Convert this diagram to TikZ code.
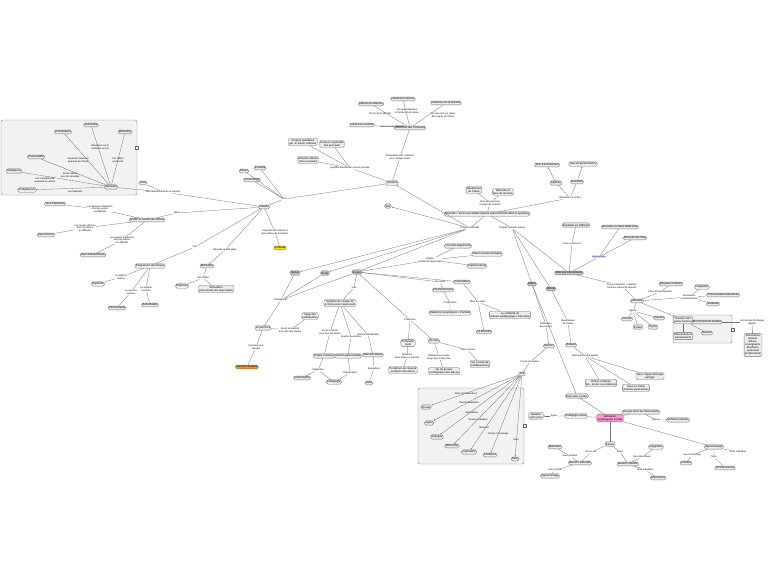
\documentclass[tikz,border=0pt]{standalone}
\usepackage{fontspec}
\setmainfont{Liberation Sans}
\usetikzlibrary{arrows.meta}
\begin{document}
\begin{tikzpicture}[x=1pt,y=-1pt,
 c/.style={draw=black!55,line width=0.35pt,fill=gray!14,rounded corners=1.5pt,inner sep=0.9pt,font=\fontsize{2.7}{3.1}\selectfont,align=center},
 d/.style={c,fill=gray!45},
 l/.style={inner sep=0.3pt,font=\fontsize{2.4}{2.8}\selectfont,align=center},
 mb/.style={draw=black!60,fill=white,line width=0.3pt,inner sep=0.5pt,minimum size=3pt,font=\fontsize{2.4}{2.4}\selectfont},
 e/.style={draw=black!55,line width=0.3pt},
 a/.style={e,-{Latex[length=1.5pt,width=1.2pt]}},
 bx/.style={draw=black!50,fill=blue!4!gray!10,rounded corners=2pt,line width=0.4pt}]
\useasboundingbox (0,0) rectangle (768,578);
\fill[white] (0,0) rectangle (768,578);
\draw[bx] (1,120) rectangle (137,195);
\draw[bx] (418,388) rectangle (524,464);
\draw[bx] (673,315) rectangle (732,343);
% left box
\node[c] (au) at (91,125) {Autonomie};
\node[c] (co) at (63,132) {Coordination};
\node[c] (mo) at (125,132) {Motivation};
\node[c] (pe) at (36,157) {Personnalité};
\node[c] (in) at (14,171) {Intelligence};
\node[c] (cm) at (27,190) {Compétences};
\node[c] (ap) at (111,187) {Aptitudes};
\foreach \s in {au,co,mo,pe,in,cm} \draw[e] (\s)--(ap);
\node[l] at (100,147) {Influences sur la\\confiance en soi};
\node[l] at (78,160) {Capacités innées et\\acquises de l'élève};
\node[l] at (118,160) {Par l'effort\\personnel};
\node[l] at (70,175) {En lien direct\\avec les résultats};
\node[l] at (45,180) {Les compétences\\acquises en classe};
\node[l] at (75,192) {Les habiletés};
\node[mb] at (137,148) {-};
\node[c] (cr) at (143,183) {Crise};
\node[l] (sd) at (163,192) {Sont déterminants de la réussite};
% individu
\node[c] (ind) at (264,207) {Individu};
\draw[e] (ap)--(sd)--(ind); \draw[e] (cr)--(sd);
\node[c] (ta) at (55,204) {Taux d'abandon};
\node[c] (ar) at (147,220) {Arrêter le soutien des élèves};
\node[c] (te) at (46,235) {Taux d'échec};
\node[c] (tb) at (93,255) {Taux d'absentéisme};
\node[l] (la) at (100,209) {Les facteurs d'abandon\\chez les jeunes\\en difficulté};
\node[l] (lb) at (85,228) {Les causes d'échec\\chez les élèves\\en difficulté};
\node[l] (lc) at (122,240) {Les causes d'absence\\chez les élèves\\en difficulté};
\draw[e] (ta)--(la)--(ar); \draw[e] (lb)--(ar); \draw[e] (te)--(lb); \draw[e] (tb)--(lc)--(ar);
\node[l] (ml) at (177,213) {Mène};
\draw[e] (ar)--(ml)--(ind);
\node[l] (cp) at (275,232) {Capacités des élèves et\\des milieux de formation};
\node[c,fill=yellow!80!orange] (ctx) at (280,248) {Contexte};
\draw[e] (ind)--(cp)--(ctx);
\node[c] (pr) at (150,266) {Progression des élèves};
\node[l] (pv) at (195,247) {Par};
\draw[e] (ind)--(pv)--(pr);
\node[l] (rq) at (225,250) {Réussite qualité élève};
\node[c] (mot) at (207,266) {Motivation};
\draw[e] (ind)--(rq)--(mot);
\node[l] (vi) at (203,278) {Vise l'effort};
\node[c] (dip) at (182,286) {Diplômés};
\node[c] (sti) at (216,289) {Stimulation\\personnelle des apprenants};
\draw[e] (mot)--(vi)--(dip); \draw[e] (vi)--(sti);
\node[c] (dp) at (98,284) {Diplômés};
\node[c] (rd) at (150,305) {Redoublants};
\node[c] (ps) at (117,308) {Persévérants};
\node[l] (l1) at (121,277) {Le diplôme\\obtenu};
\node[l] (l2) at (131,292) {La réussite\\scolaire};
\node[l] (l3) at (146,289) {La réussite\\continue};
\draw[e] (pr)--(l1)--(dp); \draw[e] (pr)--(l2)--(ps); \draw[e] (pr)--(l3)--(rd);
% top nodes around individu
\node[c] (pa) at (244,171) {Pause};
\node[c] (cs) at (260,168) {Conseils};
\node[c] (ip) at (252,180) {Intervenants};
\node[l] (jn) at (284,199) {Joint};
\foreach \s in {pa,cs,ip} \draw[e] (\s)--(jn);
\draw[a] (jn)--(ind);
\node[c] (aq) at (303,142) {Analyse qualitative\\par un acteur extérieur};
\node[c] (fe) at (332,144) {Facteurs explicatifs\\liés au travail};
\node[c] (ac) at (308,160) {Activités ciblées\\liées au travail};
\node[l] (qu) at (350,168) {Qualités essentielles pour la réussite};
\draw[e] (aq)--(qu); \draw[e] (fe)--(qu); \draw[e] (ac)--(qu);
\node[c] (sys) at (392,183) {Système};
\draw[e] (qu)--(sys); \draw[e] (jn)--(sys);
\node[c] (ic) at (410,128) {Influences des contextes};
\node[c] (ie) at (371,104) {Influences externes};
\node[c] (ii) at (403,99) {Influences internes};
\node[c] (ir) at (446,103) {Influence sur la réussite};
\node[c] (is) at (362,125) {Influences sociales};
\node[l] at (380,114) {Par les liens affectifs};
\node[l] at (407,111) {Par une intégration\\à l'école et à la classe};
\node[l] at (443,115) {Par une mise en valeur\\des acquis de l'élève};
\node[l] at (392,127) {Par un soutien familial};
\foreach \s in {ie,ii,ir,is} \draw[e] (\s)--(ic);
\node[l] (ds) at (400,157) {Dimensions des contextes\\pour chaque acteur};
\draw[e] (ic)--(ds)--(sys);
\node[c] (et) at (388,206) {État};
% hub
\node[c] (rr) at (487,214) {Réussite = accès aux études (élèves ayant cheminé dans le système)};
\node[c] (rn) at (474,190) {Rendement\\de l'élève};
\node[c] (ef) at (503,192) {Efficacité et\\taux de réussite};
\node[l] (lrr) at (490,203) {Suivi des parcours\\et voies de réussite};
\draw[e] (rn)--(lrr); \draw[e] (ef)--(lrr); \draw[e] (lrr)--(rr);
\node[l] (pe1) at (470,228) {Progrès éducatifs};
\node[l] (pe2) at (512,228) {Progrès scolaires élèves};
\draw[a] (pe1)--(sys); \draw[a] (pe1)--(et);
\draw[e] (rr)--(pe1); \draw[e] (rr)--(pe2);
\node[c] (tx1) at (547,165) {Taux d'achèvement};
\node[c] (tx2) at (583,164) {Taux de persévérance};
\node[c] (de1) at (556,183) {Diplôme};
\node[c] (de2) at (577,182) {Résultats};
\node[l] (op) at (570,198) {Opération sur le flux};
\draw[a] (de1)--(tx1); \draw[a] (de2)--(tx2);
\draw[e] (de1)--(op); \draw[e] (de2)--(op); \draw[e] (op)--(rr);
% center-left lower
\node[c] (lie) at (458,246) {Lieu d'enseignement};
\node[c] (sta) at (487,254) {Statut socioéconomique};
\node[c] (cap) at (477,266) {Capital culturel};
\node[l] (ori) at (430,260) {Origine\\sociale de l'apprenant};
\foreach \s in {lie,sta,cap} \draw[e] (\s)--(ori);
\node[d] (sg) at (295,273) {Signes};
\node[d] (ec) at (325,273) {École};
\node[d] (edu) at (357,272) {Écoles};
\draw[a] (pe1)--(sg); \draw[a] (pe1)--(ec); \draw[a] (pe1)--(edu); \draw[e] (ori)--(edu);
\node[l] (ens) at (281,300) {Enseignants};
\draw[e] (sg)--(ens); \draw[e] (ec)--(ens); \draw[e] (edu)--(ens);
\node[c] (par) at (263,328) {Le parcours};
\draw[e] (ens)--(par);
\node[c] (cap2) at (310,316) {Capacités\\individuelles};
\node[l] (ac2) at (290,330) {Accès et réussite\\à la suite des études};
\draw[e] (cap2)--(ac2)--(par);
\node[l] (lp) at (256,347) {Favoriser une\\réussite};
\node[c,fill=orange!90] (or) at (247,367) {Parcours scolaire};
\draw[e] (par)--(lp)--(or);
\node[c] (sou) at (340,303) {Système de soutien lié\\à l'école pour l'apprenant};
\node[l] (ve) at (354,288) {Vise};
\draw[e] (edu)--(ve)--(sou);
\node[l] (lp1) at (330,332) {Accès à l'école\\pour tous les élèves};
\node[l] (lp2) at (351,337) {Soutien aux élèves};
\node[l] (lp3) at (368,335) {Soutien individualisé};
\node[c] (pj) at (324,356) {Projets scolaires};
\node[c] (pj2) at (348,356) {Soutien personnalisé};
\node[c] (pj3) at (373,355) {Aide aux élèves};
\draw[e] (sou)--(lp1)--(pj); \draw[e] (sou)--(lp2)--(pj2); \draw[e] (sou)--(lp3)--(pj3);
\node[l] (ld) at (318,370) {Intégration};
\node[c] (pr1) at (302,378) {Intervenants};
\node[c] (pr2) at (334,382) {Pédagogie};
\node[l] (ld2) at (350,373) {Interventions};
\node[l] (ld3) at (374,368) {Évaluations};
\node[c] (pr3) at (369,383) {Suivi};
\draw[e] (pj)--(ld)--(pr1); \draw[e] (ld)--(pr2); \draw[e] (pj2)--(ld2)--(pr2); \draw[e] (pj3)--(ld3)--(pr3);
\node[l] (pp) at (410,320) {Processus};
\draw[e] (edu)--(pp);
\node[c] (cmp) at (408,343) {Comporte-\\ment};
\node[c] (grp) at (434,341) {Groupe};
\draw[e] (pp)--(cmp); \draw[e] (pp)--(grp);
\node[l] (la1) at (407,356) {Relations\\entre élèves et parents};
\node[c] (cl1) at (403,370) {Conditions de réussite\\scolaires des élèves};
\draw[e] (cmp)--(la1)--(cl1);
\node[l] (la2) at (439,357) {Relations au niveau\\du groupe et des pairs};
\node[c] (cl2) at (444,371) {Vie de groupe\\et intégration des élèves};
\draw[e] (grp)--(la2)--(cl2);
\node[l] (la3) at (468,350) {Liens sociaux};
\node[c] (cl3) at (480,364) {Vie sociale de\\l'établissement};
\draw[e] (grp)--(la3)--(cl3);
\node[l] (pf) at (440,282) {Pour faire};
\node[c] (fa) at (443,290) {Fonctionnement};
\node[l] (fa2) at (450,303) {Coopération};
\node[c] (fa3) at (450,313) {Relations coopératives + Comités};
\draw[e] (edu)--(pf)--(fa)--(fa2)--(fa3);
\node[c] (cw) at (462,282) {Concertation};
\node[l] (cw2) at (478,302) {Mise en valeur};
\node[c] (cw3) at (484,332) {La diversité};
\node[c] (cw4) at (510,315) {La solidarité de\\l'équipe pédagogique / éducative};
\draw[e] (edu)--(cw); \draw[e] (cw)--(cw2)--(cw3); \draw[e] (cw2)--(cw4);
% right
\node[c] (r1) at (576,225) {Étudiants en difficulté};
\node[c] (r2) at (620,227) {Réussite en milieu défavorisé};
\node[c] (r3) at (635,238) {Réussite des filles};
\node[l] (rp) at (572,244) {Pour le parcours};
\node[l,text=blue!70!black,fill=blue!15] (rb) at (599,257) {Interventions};
\node[d] (rol) at (569,273) {Rôle des interventions};
\draw[e] (r1)--(rp)--(rol); \draw[e] (r2)--(rb)--(rol); \draw[e] (r3)--(rb);
\draw[e] (pe2)--(rol);
\node[d] (mo1) at (532,284) {Milieu};
\node[d] (mo2) at (551,289) {Monde};
\draw[e] (pe2)--(mo1); \draw[e] (pe2)--(mo2);
\node[l] (rl) at (622,286) {Le(s) contexte(s) = champs,\\facteurs prévus de réussite};
\node[c] (ms) at (637,301) {Ministère};
\draw[e] (rol)--(rl)--(ms);
\node[c] (q1) at (671,284) {Réseaux scolaires};
\node[l] (q1l) at (660,292) {Choix et financements};
\draw[e] (ms)--(q1l)--(q1);
\node[c] (q2) at (702,287) {Intégration};
\node[c] (q3) at (723,295) {Communautés éducatives};
\node[c] (q4) at (713,304) {Solidarité};
\node[l] (q2l) at (689,297) {Association\\communautaire};
\draw[e] (ms)--(q2l); \draw[e] (q2l)--(q2); \draw[e] (q2l)--(q3); \draw[e] (q2l)--(q4);
\node[l] (ms2) at (633,311) {Agents};
\node[c] (g1) at (627,319) {Conseil};
\node[c] (g2) at (638,327) {Écoles};
\node[c] (g3) at (653,327) {Cycles};
\node[c] (g4) at (659,318) {Classes};
\draw[e] (ms)--(ms2); \foreach \s in {g1,g2,g3,g4} \draw[e] (ms2)--(\s);
\node[c] (b1) at (683,320) {Création des\\autres facteurs};
\node[c] (b2) at (707,322) {Environnement scolaire};
\node[c] (b3) at (683,336) {Intervenants et\\représentants};
\node[c] (b4) at (707,333) {Soutien};
\draw[e] (ms)--(b1)--(b2); \draw[e] (b1)--(b3); \draw[e] (b1)--(b4);
\node[mb] at (733,330) {-};
\node[l] (bl) at (752,322) {Sert de lieu d'échange\\régulier};
\node[c] (bt) at (753,345) {Rencontres\\parents,\\élèves,\\enseignants,\\directions,\\personnel\\professionnel};
\draw[e] (b2)--(bl); \draw[a] (bl)--(bt);
\node[l] (v1) at (546,325) {Évaluation\\des savoirs};
\node[l] (v2) at (568,322) {Mécanismes\\de soutien};
\node[c] (vi1) at (549,346) {Soutien};
\node[c] (vi2) at (571,345) {Réseau};
\draw[e] (mo1)--(v1)--(vi1); \draw[e] (mo2)--(v2)--(vi2);
\node[l] (fm) at (530,362) {Forme de soutien};
\node[c] (tr) at (522,374) {Trio};
\draw[e] (vi1)--(fm); \draw[a] (fm)--(tr);
\node[c] (t1) at (426,407) {Écoute};
\node[c] (t2) at (429,423) {Appui};
\node[c] (t3) at (437,437) {Dialogue};
\node[c] (t4) at (452,446) {Démarche};
\node[c] (t5) at (469,452) {Implication};
\node[c] (t6) at (490,455) {Confiance};
\node[c] (t7) at (515,459) {Suivi};
\node[l] at (466,394) {Plans d'interventions};
\node[l] at (469,403) {Plan d'intervention};
\node[l] at (472,412) {Évaluations};
\node[l] at (478,420) {Soutien individuel};
\node[l] at (484,428) {Mentorat};
\node[l] at (498,434) {Tutorat, Parrainage};
\node[l] at (516,440) {Suivi};
\foreach \s in {t1,t2,t3,t4,t5,t6,t7} \draw[a] (tr)--(\s);
\node[mb] at (525,426) {-};
\node[l] (vv) at (585,356) {Interventions des agents};
\node[c] (w1) at (601,383) {Ordres scolaires\\(ex. écoles secondaires)};
\node[c] (w2) at (636,388) {Lieux en milieu\\d'études particulières};
\node[c] (w3) at (650,376) {Lieux d'apprentissage\\partagé};
\draw[e] (vi2)--(vv); \draw[e] (vv)--(w1); \draw[e] (vv)--(w2); \draw[e] (vv)--(w3);
\node[c] (x0) at (577,396) {Éducation sociale};
\draw[e] (mo1)--(x0);
\node[c,fill=magenta!40] (pk) at (610,418) {Éducation\\et pédagogie sociale};
\draw[e] (x0)--(pk);
\node[c] (x1) at (536,416) {Relation\\entre pairs};
\node[l] (x1l) at (554,416) {Appui};
\node[c] (x2) at (576,416) {Pédagogie active};
\draw[e] (pk)--(x2)--(x1l); \draw[a] (x1l)--(x1);
\node[c] (x3) at (641,412) {Groupe selon les intervenants};
\node[l] (x3l) at (656,420) {Appuie};
\node[c] (x4) at (678,420) {Relations parents};
\draw[e] (pk)--(x3)--(x3l)--(x4);
\node[c] (y0) at (610,444) {Élèves};
\draw[e] (pk)--(y0);
\node[l] (y1) at (591,452) {Ont accès};
\node[l] (y2) at (620,452) {Selon};
\node[c] (y3) at (580,463) {Besoins éducatifs};
\node[c] (y4) at (628,464) {Besoins affectifs};
\draw[e] (y0)--(y1)--(y3); \draw[e] (y0)--(y2)--(y4);
\node[c] (y5) at (555,447) {Motivation};
\node[l] (y5l) at (570,456) {Suivi parental};
\draw[e] (y3)--(y5l)--(y5);
\node[l] (y6l) at (555,470) {Suivi continu};
\node[c] (y6) at (550,476) {Apprentissage};
\draw[e] (y3)--(y6l)--(y6);
\node[c] (y7) at (656,447) {Intégration};
\node[l] (y7l) at (642,457) {Suivi des élèves};
\draw[e] (y4)--(y7l)--(y7);
\node[l] (y8l) at (645,470) {Suivi individuel};
\node[c] (y8) at (658,478) {Intervention};
\draw[e] (y4)--(y8l)--(y8);
\node[c] (z0) at (714,447) {Apprentissage};
\draw[e] (pk)--(z0);
\node[l] (z1) at (692,455) {Lieux d'échange};
\node[l] (z2) at (714,457) {Suivi};
\node[l] (z3) at (738,452) {Suivi individuel};
\node[c] (z4) at (686,463) {Activités};
\node[c] (z5) at (725,468) {Connaissances};
\draw[e] (z0)--(z1)--(z4); \draw[e] (z0)--(z2)--(z5); \draw[e] (z0)--(z3);
\end{tikzpicture}
\end{document}
